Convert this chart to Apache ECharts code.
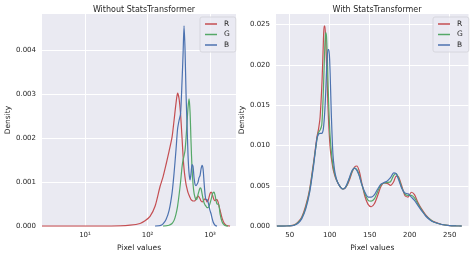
<!DOCTYPE html>
<html><head><meta charset="utf-8">
<script src="https://cdn.jsdelivr.net/npm/echarts@6/dist/echarts.min.js"></script>
<style>html,body{margin:0;padding:0;background:#fff}#c{width:474px;height:257px}</style>
</head><body><div id="c"></div><script>
// ---- Left panel: pixel values (log axis) ----
const leftPixel = [2.05, 17.4, 36.3, 52.5, 75.9, 91.2, 109.6, 131.8, 158.5, 177, 197.7, 220.8, 246.6, 265.5, 285.8, 302, 319, 337.3,
  356.5, 369.8, 383.7, 398.1, 413, 428.5, 444.6, 461.3, 478.6, 496.6, 515.2, 534.6, 554.6, 575.4, 597, 619.4, 642.7, 666.8, 691.8, 717.8, 744.7, 772.7,
  801.7, 831.8, 863, 895.4, 929, 963.9, 1000, 1037.5, 1076.4, 1116.9, 1158.8, 1202.3, 1247.4, 1294.2, 1342.8, 1393.2, 1445.4,
  1556, 1675, 1803, 1941, 2089];
// densities in thousandths (x 0.001)
const leftR = [0, 0, 0.005, 0.02, 0.06, 0.12, 0.22, 0.45, 0.9, 1.12, 1.4, 1.7, 2.02, 2.4, 2.8, 3.02, 2.9, 2.55,
  2.0, 1.6, 1.3, 1.1, 0.95, 0.85, 0.76, 0.7, 0.65, 0.6, 0.58, 0.57, 0.57, 0.58, 0.62, 0.66, 0.68, 0.66, 0.62, 0.57, 0.55, 0.56,
  0.6, 0.62, 0.6, 0.55, 0.58, 0.66, 0.74, 0.77, 0.74, 0.66, 0.6, 0.58, 0.6, 0.6, 0.55, 0.45, 0.36,
  0.18, 0.07, 0.02, 0.005, 0];
const leftG = [null, null, null, null, null, null, null, null, null, 0, 0.005, 0.02, 0.06, 0.13, 0.28, 0.45, 0.7, 1.0,
  1.35, 1.5, 1.6, 1.72, 2.0, 2.35, 2.7, 2.89, 2.6, 1.9, 1.3, 0.95, 0.75, 0.65, 0.6, 0.62, 0.72, 0.8, 0.87, 0.85, 0.74, 0.62,
  0.53, 0.48, 0.45, 0.42, 0.42, 0.45, 0.52, 0.6, 0.7, 0.76, 0.77, 0.7, 0.58, 0.5, 0.5, 0.46,
  0.28, 0.1, 0.03, 0.005, 0];
const leftB = [null, null, null, null, null, null, null, 0, 0.01, 0.05, 0.15, 0.35, 0.75, 1.2, 1.75, 2.2, 2.4, 2.55,
  3.3, 3.9, 4.55, 4.0, 3.0, 2.3, 1.6, 1.2, 1.05, 1.2, 1.4, 1.35, 1.1, 0.95, 0.92, 0.95, 1.0, 1.1, 1.15, 1.3, 1.38, 1.3,
  1.0, 0.72, 0.6, 0.6, 0.55, 0.45, 0.35, 0.28, 0.18, 0.1, 0.05, 0.02, 0.005, 0, null, null, null,
  null, null, null, null, null];
const leftXTicks = [10, 100, 1000];
const leftXTickLabels = ['10\u00b9', '10\u00b2', '10\u00b3'];
const leftYTicks = [0, 1, 2, 3, 4];

// ---- Right panel: pixel values (linear) ----
const rightPixel = [34, 40, 45, 50, 55, 60, 65, 70, 75, 80, 84, 86, 88, 90, 91, 92, 93, 94, 95, 96, 97, 98, 99, 100, 101, 102,
  104, 106, 108, 110, 113, 116, 119, 122, 125, 128, 131, 134, 137, 140, 144, 148, 152, 156, 160, 164, 168, 172, 176, 180,
  183, 186, 190, 194, 198, 202, 206, 210, 215, 220, 225, 230, 240, 250, 258, 265];
const rightR = [0, 0.003, 0.01, 0.03, 0.12, 0.45, 1.1, 2.5, 4.6, 8.0, 11.0, 12.0, 13.5, 17.0, 19.5, 22.5, 24.8, 24.8, 23.0, 20.5, 17.5, 14.5, 12.2, 10.5, 9.3, 8.5,
  7.2, 6.4, 5.8, 5.4, 4.9, 4.6, 4.7, 5.1, 5.8, 6.7, 7.3, 7.45, 6.8, 5.4, 3.7, 2.7, 2.4, 2.8, 3.8, 4.9, 5.35, 5.3, 5.05, 5.5,
  6.2, 6.1, 5.0, 3.8, 3.6, 4.2, 3.9, 3.0, 2.1, 1.4, 0.9, 0.55, 0.2, 0.06, 0.02, 0];
const rightG = [0, 0.003, 0.01, 0.025, 0.1, 0.38, 1.0, 2.3, 4.4, 7.8, 10.7, 11.6, 11.9, 12.5, 14.0, 16.5, 19.5, 22.5, 24.0, 23.5, 21.0, 17.5, 14.5, 12.0, 10.5, 9.3,
  7.6, 6.6, 5.9, 5.4, 4.9, 4.6, 4.7, 5.2, 6.0, 6.8, 7.2, 7.0, 6.3, 5.2, 4.0, 3.2, 3.1, 3.4, 4.3, 5.1, 5.35, 5.4, 5.5, 6.3,
  6.5, 6.0, 4.8, 4.0, 3.8, 3.8, 3.5, 2.8, 2.0, 1.3, 0.85, 0.5, 0.2, 0.06, 0.02, 0];
const rightB = [0, 0.002, 0.008, 0.02, 0.08, 0.32, 0.9, 2.1, 4.2, 7.6, 10.8, 11.4, 11.5, 11.5, 11.6, 12.0, 13.0, 14.5, 16.5, 19.0, 21.0, 21.9, 21.9, 20.5, 17.5, 14.0,
  9.0, 7.0, 6.0, 5.4, 4.9, 4.6, 4.7, 5.3, 6.1, 6.9, 7.2, 6.9, 6.2, 5.2, 4.2, 3.6, 3.6, 3.9, 4.6, 5.2, 5.4, 5.6, 6.0, 6.6,
  6.5, 5.8, 4.7, 4.1, 4.0, 3.6, 3.2, 2.6, 1.9, 1.25, 0.8, 0.5, 0.2, 0.06, 0.02, 0];
const rightXTicks = [50, 100, 150, 200, 250];
const rightYTicks = [0, 5, 10, 15, 20, 25];

const seriesNames = ['R', 'G', 'B'];
const colors = ['#C44E52', '#55A868', '#4C72B0'];
const titles = ['Without StatsTransformer', 'With StatsTransformer'];

function pairs(xs, ys) {
  const out = [];
  xs.forEach((x, i) => { if (ys[i] !== null) out.push([x, ys[i]]); });
  return out;
}
const FONT = 'DejaVu Sans';
const TXT = '#262626';
const BG = '#EAEAF2';
function yAxis(grid, max, ticks) {
  return {
    type: 'value', gridIndex: grid, min: 0, max: max,
    axisLine: { show: false },
    axisTick: { show: false, customValues: ticks },
    axisLabel: { customValues: ticks, formatter: v => (v / 1000).toFixed(3), fontSize: 7, color: TXT, fontFamily: FONT, margin: 6 },
    splitLine: { show: true, lineStyle: { color: '#fff', width: 1 } },
    name: 'Density', nameLocation: 'middle', nameGap: 29,
    nameTextStyle: { fontSize: 7.5, color: TXT, fontFamily: FONT }
  };
}
function lineSeries(name, i, data, x, y) {
  return {
    type: 'line', name: name, xAxisIndex: x, yAxisIndex: y, data: data,
    symbol: 'none', showSymbol: false, smooth: 0.25,
    lineStyle: { color: colors[i], width: 1.2 }, itemStyle: { color: colors[i] }
  };
}
function legend(left) {
  return {
    data: seriesNames, orient: 'vertical', left: left, top: 17,
    icon: 'rect', itemWidth: 12, itemHeight: 1.5, itemGap: 2.5,
    padding: [3, 6, 3, 5],
    backgroundColor: 'rgba(234,234,242,0.8)', borderColor: '#D2D2D8', borderWidth: 0.8, borderRadius: 2,
    textStyle: { fontSize: 7.5, color: TXT, fontFamily: FONT, padding: [0, 0, 0, 2] },
    selectedMode: false
  };
}

const chart = echarts.init(document.getElementById('c'), null, { renderer: 'canvas' });
chart.setOption({
  animation: false,
  backgroundColor: '#ffffff',
  textStyle: { fontFamily: FONT },
  title: [
    { text: titles[0], left: 139, top: 1, textAlign: 'center', textStyle: { fontSize: 8, fontWeight: 'normal', color: TXT, fontFamily: FONT } },
    { text: titles[1], left: 372, top: 1, textAlign: 'center', textStyle: { fontSize: 8, fontWeight: 'normal', color: TXT, fontFamily: FONT } }
  ],
  grid: [
    { left: 42, top: 14, width: 194, height: 213, show: true, backgroundColor: BG, borderWidth: 0 },
    { left: 276, top: 14, width: 192.5, height: 213, show: true, backgroundColor: BG, borderWidth: 0 }
  ],
  xAxis: [
    {
      type: 'log', logBase: 10, gridIndex: 0, min: 2.05, max: 2600,
      axisLine: { show: false },
      axisTick: { show: false, customValues: leftXTicks },
      axisLabel: { customValues: leftXTicks, formatter: v => leftXTickLabels[leftXTicks.indexOf(Math.round(v))] || '', fontSize: 7, color: TXT, fontFamily: FONT, margin: 6 },
      splitLine: { show: true, lineStyle: { color: '#fff', width: 1 } },
      minorTick: { show: false }, minorSplitLine: { show: false },
      name: 'Pixel values', nameLocation: 'middle', nameGap: 16,
      nameTextStyle: { fontSize: 7.5, color: TXT, fontFamily: FONT }
    },
    {
      type: 'value', gridIndex: 1, min: 32.9, max: 273.5,
      axisLine: { show: false },
      axisTick: { show: false, customValues: rightXTicks },
      axisLabel: { customValues: rightXTicks, fontSize: 7, color: TXT, fontFamily: FONT, margin: 6 },
      splitLine: { show: true, lineStyle: { color: '#fff', width: 1 } },
      name: 'Pixel values', nameLocation: 'middle', nameGap: 16,
      nameTextStyle: { fontSize: 7.5, color: TXT, fontFamily: FONT }
    }
  ],
  yAxis: [yAxis(0, 4.82, leftYTicks), yAxis(1, 26.3, rightYTicks)],
  legend: [legend(200), legend(433)],
  series: [
    lineSeries('R', 0, pairs(leftPixel, leftR), 0, 0),
    lineSeries('G', 1, pairs(leftPixel, leftG), 0, 0),
    lineSeries('B', 2, pairs(leftPixel, leftB), 0, 0),
    lineSeries('R', 0, pairs(rightPixel, rightR), 1, 1),
    lineSeries('G', 1, pairs(rightPixel, rightG), 1, 1),
    lineSeries('B', 2, pairs(rightPixel, rightB), 1, 1)
  ]
});
</script></body></html>
